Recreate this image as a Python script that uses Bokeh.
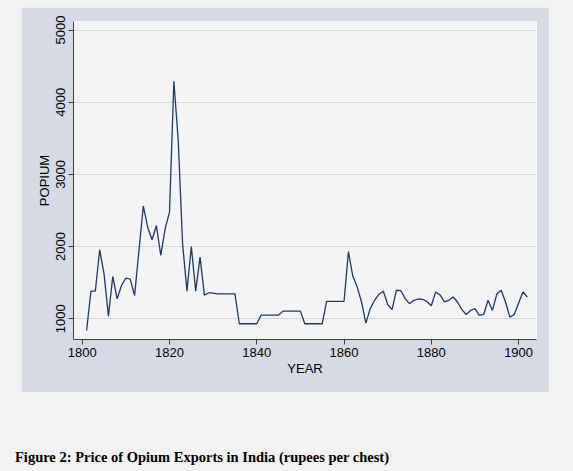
from bokeh.plotting import figure
from bokeh.layouts import column
from bokeh.models import Div, FixedTicker, Range1d
from bokeh.embed import file_html
from bokeh.resources import INLINE

years = list(range(1801, 1903))
popium = [
    838, 1383, 1383, 1955, 1623, 1037, 1586, 1277, 1461, 1563,   # 1801-1810
    1549, 1323, 1946, 2560, 2269, 2094, 2292, 1877, 2246, 2477,  # 1811-1820
    4290, 3469, 2038, 1383, 2001, 1383, 1854, 1328, 1360, 1355,  # 1821-1830
    1346, 1346, 1346, 1346, 1346, 931, 931, 931, 931, 931,       # 1831-1840
    1051, 1051, 1051, 1051, 1051, 1106, 1106, 1106, 1106, 1106,  # 1841-1850
    931, 931, 931, 931, 931, 1242, 1242, 1242, 1242, 1242,       # 1851-1860
    1930, 1591, 1442, 1233, 940, 1140, 1256, 1340, 1381, 1200,   # 1861-1870
    1126, 1395, 1391, 1279, 1209, 1256, 1274, 1270, 1237, 1181,  # 1871-1880
    1372, 1330, 1233, 1256, 1302, 1233, 1126, 1060, 1116, 1140,  # 1881-1890
    1047, 1060, 1256, 1116, 1340, 1395, 1233, 1023, 1060, 1219,  # 1891-1900
    1372, 1302,                                                  # 1901-1902
]
x_ticks = [1800, 1820, 1840, 1860, 1880, 1900]
y_ticks = [1000, 2000, 3000, 4000, 5000]
caption = "Figure 2: Price of Opium Exports in India (rupees per chest)"

PANEL = "#d5dae4"
PAGE = "#f2f2f2"
FONT = "Liberation Sans"

p = figure(width=528, height=385, output_backend="svg", toolbar_location=None,
           x_range=Range1d(1798.0, 1904.1), y_range=Range1d(713, 5118),
           min_border_left=52, min_border_right=13, min_border_top=14, min_border_bottom=53,
           margin=(7, 0, 0, 21))
p.border_fill_color = PANEL
p.background_fill_color = "#f4f4f4"
p.outline_line_color = "#fbfbfb"
p.outline_line_width = 1

p.line(years, popium, line_color="#1f3864", line_width=1.3)

p.xaxis.ticker = FixedTicker(ticks=x_ticks)
p.yaxis.ticker = FixedTicker(ticks=y_ticks)
for ax in (p.xaxis, p.yaxis):
    ax.axis_line_color = "#404040"
    ax.axis_line_width = 1
    ax.major_tick_line_color = "#404040"
    ax.major_tick_out = 5
    ax.major_tick_in = 0
    ax.minor_tick_line_color = None
    ax.major_label_text_font = FONT
    ax.major_label_text_font_size = "13px"
    ax.major_label_text_color = "black"
    ax.axis_label_text_font = FONT
    ax.axis_label_text_font_size = "13px"
    ax.axis_label_text_font_style = "normal"
    ax.axis_label_text_color = "black"
    ax.major_label_standoff = 3

p.xaxis.axis_label = "YEAR"
p.yaxis.axis_label = "POPIUM"
p.xaxis.axis_label_standoff = 1
p.yaxis.axis_label_standoff = 2
p.yaxis.major_label_orientation = "vertical"

p.xgrid.grid_line_color = None
p.ygrid.grid_line_color = "#d3d9e3"
p.ygrid.grid_line_width = 1

cap = Div(text=caption, margin=(55, 0, 0, 15),
          styles={"font-family": "'Liberation Serif', 'Times New Roman', serif",
                  "font-weight": "bold", "font-size": "14.5px", "color": "black"})

layout = column(p, cap, styles={"background-color": PAGE})

html = file_html(layout, INLINE)
html = html.replace("<body>", '<body style="background-color: %s;">' % PAGE)
open("out.html", "w").write(html)
